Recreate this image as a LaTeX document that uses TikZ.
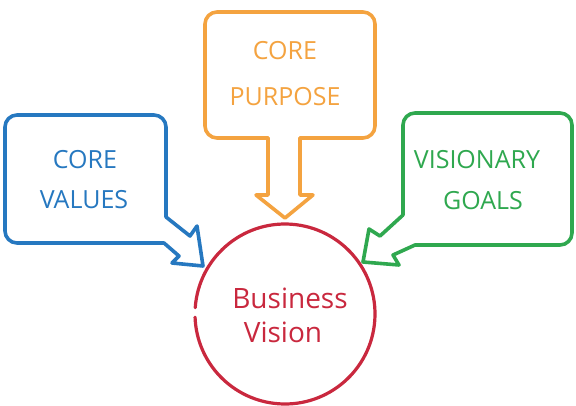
\documentclass[tikz,border=0pt]{standalone}
\usepackage{fontspec}
\setmainfont{Open Sans}
\definecolor{cblue}{RGB}{38,120,192}
\definecolor{corange}{RGB}{244,163,64}
\definecolor{cgreen}{RGB}{47,168,79}
\definecolor{cred}{RGB}{201,40,62}
\begin{document}
\begin{tikzpicture}[x=1pt,y=-1pt,line cap=round,line join=round,
  outline/.style={line width=3.6pt},
  lbl/.style={font=\fontsize{25}{30}\selectfont,inner sep=0pt},
  biglbl/.style={font=\fontsize{28}{33}\selectfont,inner sep=0pt}]
\useasboundingbox[fill=white] (0,0) rectangle (576,405);
% blue callout
\draw[outline,cblue,rounded corners=12] (166,217) -- (166,115) -- (5,115) -- (5,243) -- (164,243);
\draw[outline,cblue] (166,217) -- (190,236) -- (197,226) -- (203,266) -- (172,263) -- (179,256) -- (164,243);
% orange callout
\draw[outline,corange,rounded corners=12] (268,138) -- (205,138) -- (205,12) -- (375,12) -- (375,138) -- (300,138);
\draw[outline,corange] (268,138) -- (268,195) -- (256,195) -- (285,218) -- (313,195) -- (300,195) -- (300,138);
% green callout
\draw[outline,cgreen,rounded corners=12] (403,215) -- (403,113) -- (572,113) -- (572,245) -- (415,245);
\draw[outline,cgreen] (403,215) -- (380,236) -- (369,229) -- (363,262) -- (399,265) -- (393,255) -- (415,245);
% circle
\coordinate (bvc) at (285,314);
\draw[outline,cred,line width=3.2pt] (bvc) ++(184:90) arc[start angle=184,end angle=538,radius=90];
% labels
\node[lbl,text=cblue] (cv1) at (85,160) {CORE};
\node[lbl,text=cblue] (cv2) at (84,200) {VALUES};
\node[lbl,text=corange] (cp1) at (285,51) {CORE};
\node[lbl,text=corange] (cp2) at (285,97) {PURPOSE};
\node[lbl,text=cgreen] (vg1) at (477,160) {VISIONARY};
\node[lbl,text=cgreen] (vg2) at (483,201) {GOALS};
\node[biglbl,text=cred] (bv1) at (290,298) {Business};
\node[biglbl,text=cred] (bv2) at (283,332) {Vision};
\end{tikzpicture}
\end{document}
